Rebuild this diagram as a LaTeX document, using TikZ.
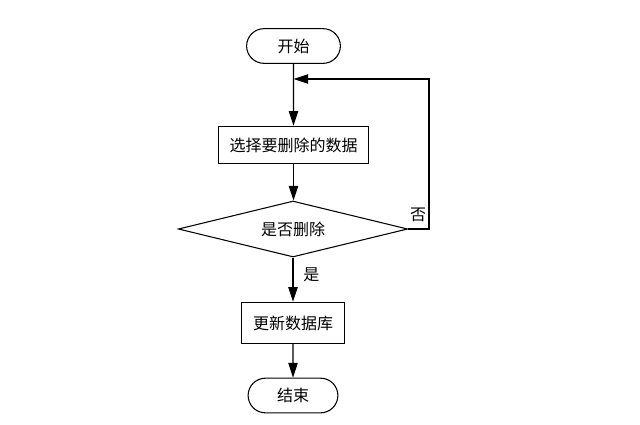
\documentclass[tikz,border=0pt]{standalone}
\usepackage{fontspec}
\newfontfamily\cjk{Noto Sans CJK SC}
\usetikzlibrary{shapes.geometric,shapes.misc,arrows.meta}

\begin{document}
\begin{tikzpicture}[x=0.75pt,y=-0.75pt,
                every node/.style={font=\cjk\fontsize{12}{14}\selectfont},
                term/.style={rounded rectangle,draw,line width=0.8pt,minimum height=26pt},
                proc/.style={rectangle,draw,line width=0.8pt,inner sep=0pt},
                decide/.style={diamond,draw,line width=0.8pt,aspect=4,inner sep=1pt,minimum width=172pt,minimum height=42pt},
                flow/.style={line width=0.9pt,-{Triangle[length=11pt,width=7pt]}}
                ]
                \useasboundingbox (0,0) rectangle (640,425);
                \node [term,minimum width=77pt] (start) at (293.5,46) {开始};
                \node [proc,minimum width=113pt,minimum height=28pt] (pick) at (293.5,145) {选择要删除的数据};
                \node [decide] (ask) at (293,229) {是否删除};
                \node [proc,minimum width=77pt,minimum height=31pt] (upd) at (293,323) {更新数据库};
                \node [term,minimum width=74pt] (stop) at (293,395.5) {结束};
                \coordinate (back) at (293.5,79);
                \draw [flow] (start) -- (pick);
                \draw [flow] (pick.south) -- (pick.south |- ask.north);
                \draw [flow] (ask) -- node [right=4pt,pos=0.4] (yes) {是} (upd);
                \draw [flow] (upd) -- (stop);
                \draw [flow] (ask.east) -- (429,229) -- (429,79) -- (back);
                \node (no) at (418,215) {否};
            \end{tikzpicture}
\end{document}
